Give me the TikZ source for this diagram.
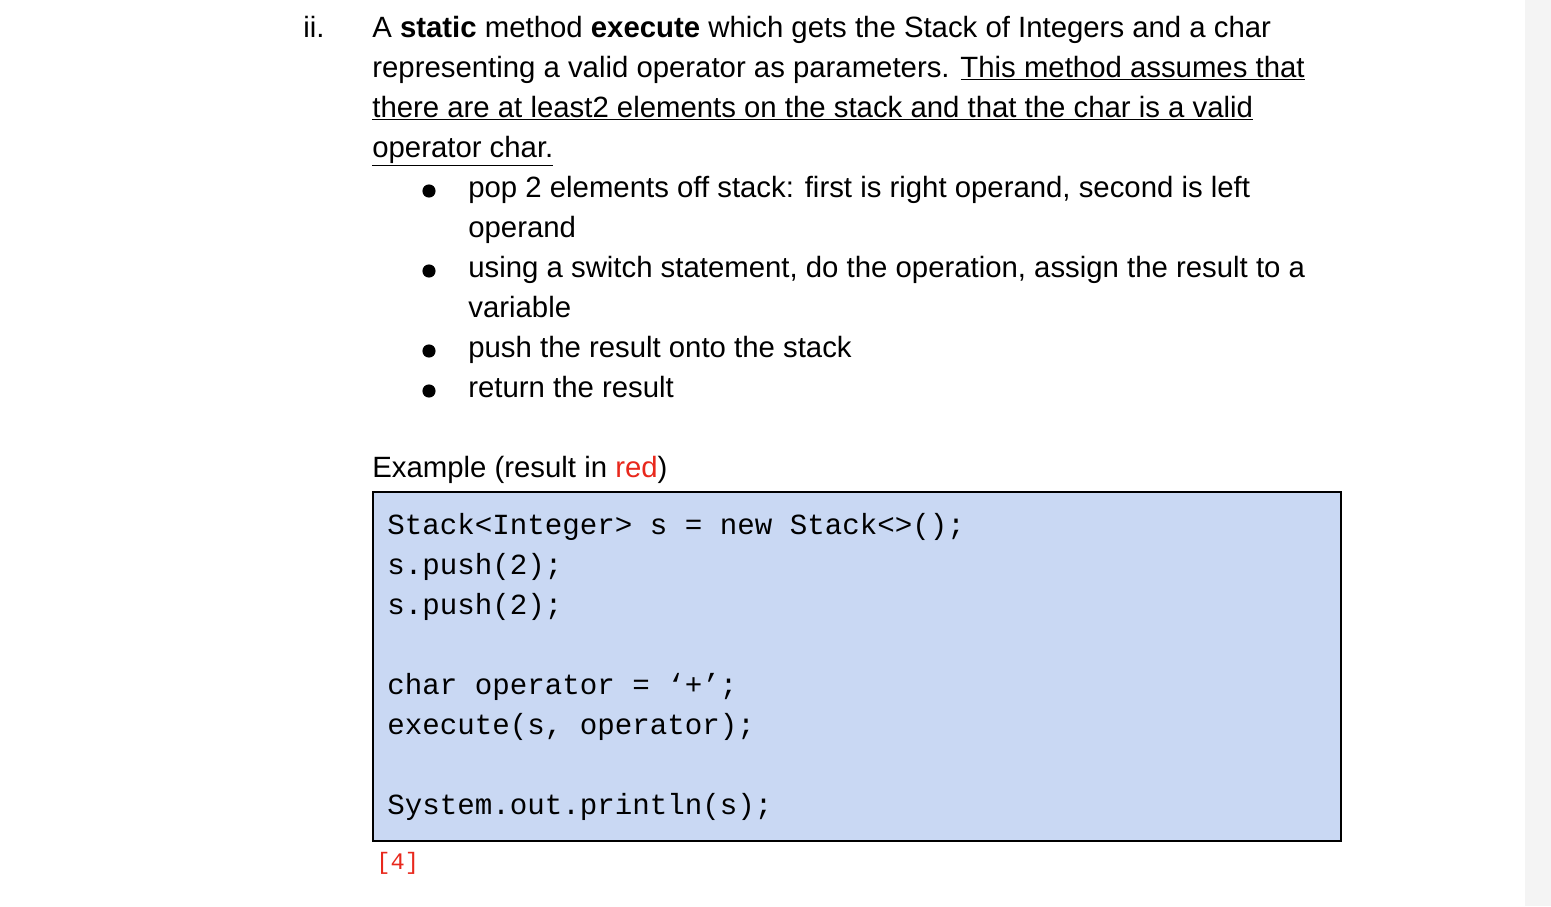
\documentclass[tikz,border=0pt]{standalone}
\usepackage{fontspec}
\setmainfont{Liberation Sans}
\setmonofont{Liberation Mono}
\definecolor{codebg}{HTML}{C9D8F3}
\definecolor{redtxt}{HTML}{E8281C}
\definecolor{strip}{HTML}{F4F4F4}
\begin{document}
\begin{tikzpicture}[x=0.02cm,y=-0.02cm,
  txt/.style={anchor=base west,inner sep=0pt,font=\fontsize{16.7pt}{19pt}\selectfont},
  code/.style={anchor=base west,inner sep=0pt,font=\fontsize{16.6pt}{18pt}\ttfamily},
  dot/.style={circle,fill=black,inner sep=0pt,minimum size=7.5pt}]
\useasboundingbox (0,0) rectangle (1551,906);
\fill[strip] (1525,0) rectangle (1551,906);
\node[txt] (num) at (303,37) {ii.};
\node[txt] (l1) at (372,37) {A \textbf{static} method \textbf{execute} which gets the Stack of Integers and a char};
\node[txt] (l2) at (372,77) {representing a valid operator as parameters. \underline{This method assumes that}};
\node[txt] (l3) at (372,117) {\underline{there are at least2 elements on the stack and that the char is a valid}};
\node[txt] (l4) at (372,157) {\underline{operator char.}};
\node[dot] (b1) at (429,191) {};
\node[txt] (t1) at (468,197) {pop 2 elements off stack: first is right operand, second is left};
\node[txt] (t1b) at (468,237) {operand};
\node[dot] (b2) at (429,271) {};
\node[txt] (t2) at (468,277) {using a switch statement, do the operation, assign the result to a};
\node[txt] (t2b) at (468,317) {variable};
\node[dot] (b3) at (429,351) {};
\node[txt] (t3) at (468,357) {push the result onto the stack};
\node[dot] (b4) at (429,391) {};
\node[txt] (t4) at (468,397) {return the result};
\node[txt] (ex) at (372,477) {Example (result in \textcolor{redtxt}{red})};
\draw[fill=codebg,line width=1.2pt] (373,492) rectangle (1341,841);
\node[code] (c1) at (387,534) {Stack<Integer> s = new Stack<>();};
\node[code] (c2) at (387,574) {s.push(2);};
\node[code] (c3) at (387,614) {s.push(2);};
\node[code] (c4) at (387,694) {char operator = ‘+’;};
\node[code] (c5) at (387,734) {execute(s, operator);};
\node[code] (c6) at (387,814) {System.out.println(s);};
\node[code,font=\fontsize{13.5pt}{15pt}\ttfamily,text=redtxt] (r) at (376,869) {[4]};
\end{tikzpicture}
\end{document}
